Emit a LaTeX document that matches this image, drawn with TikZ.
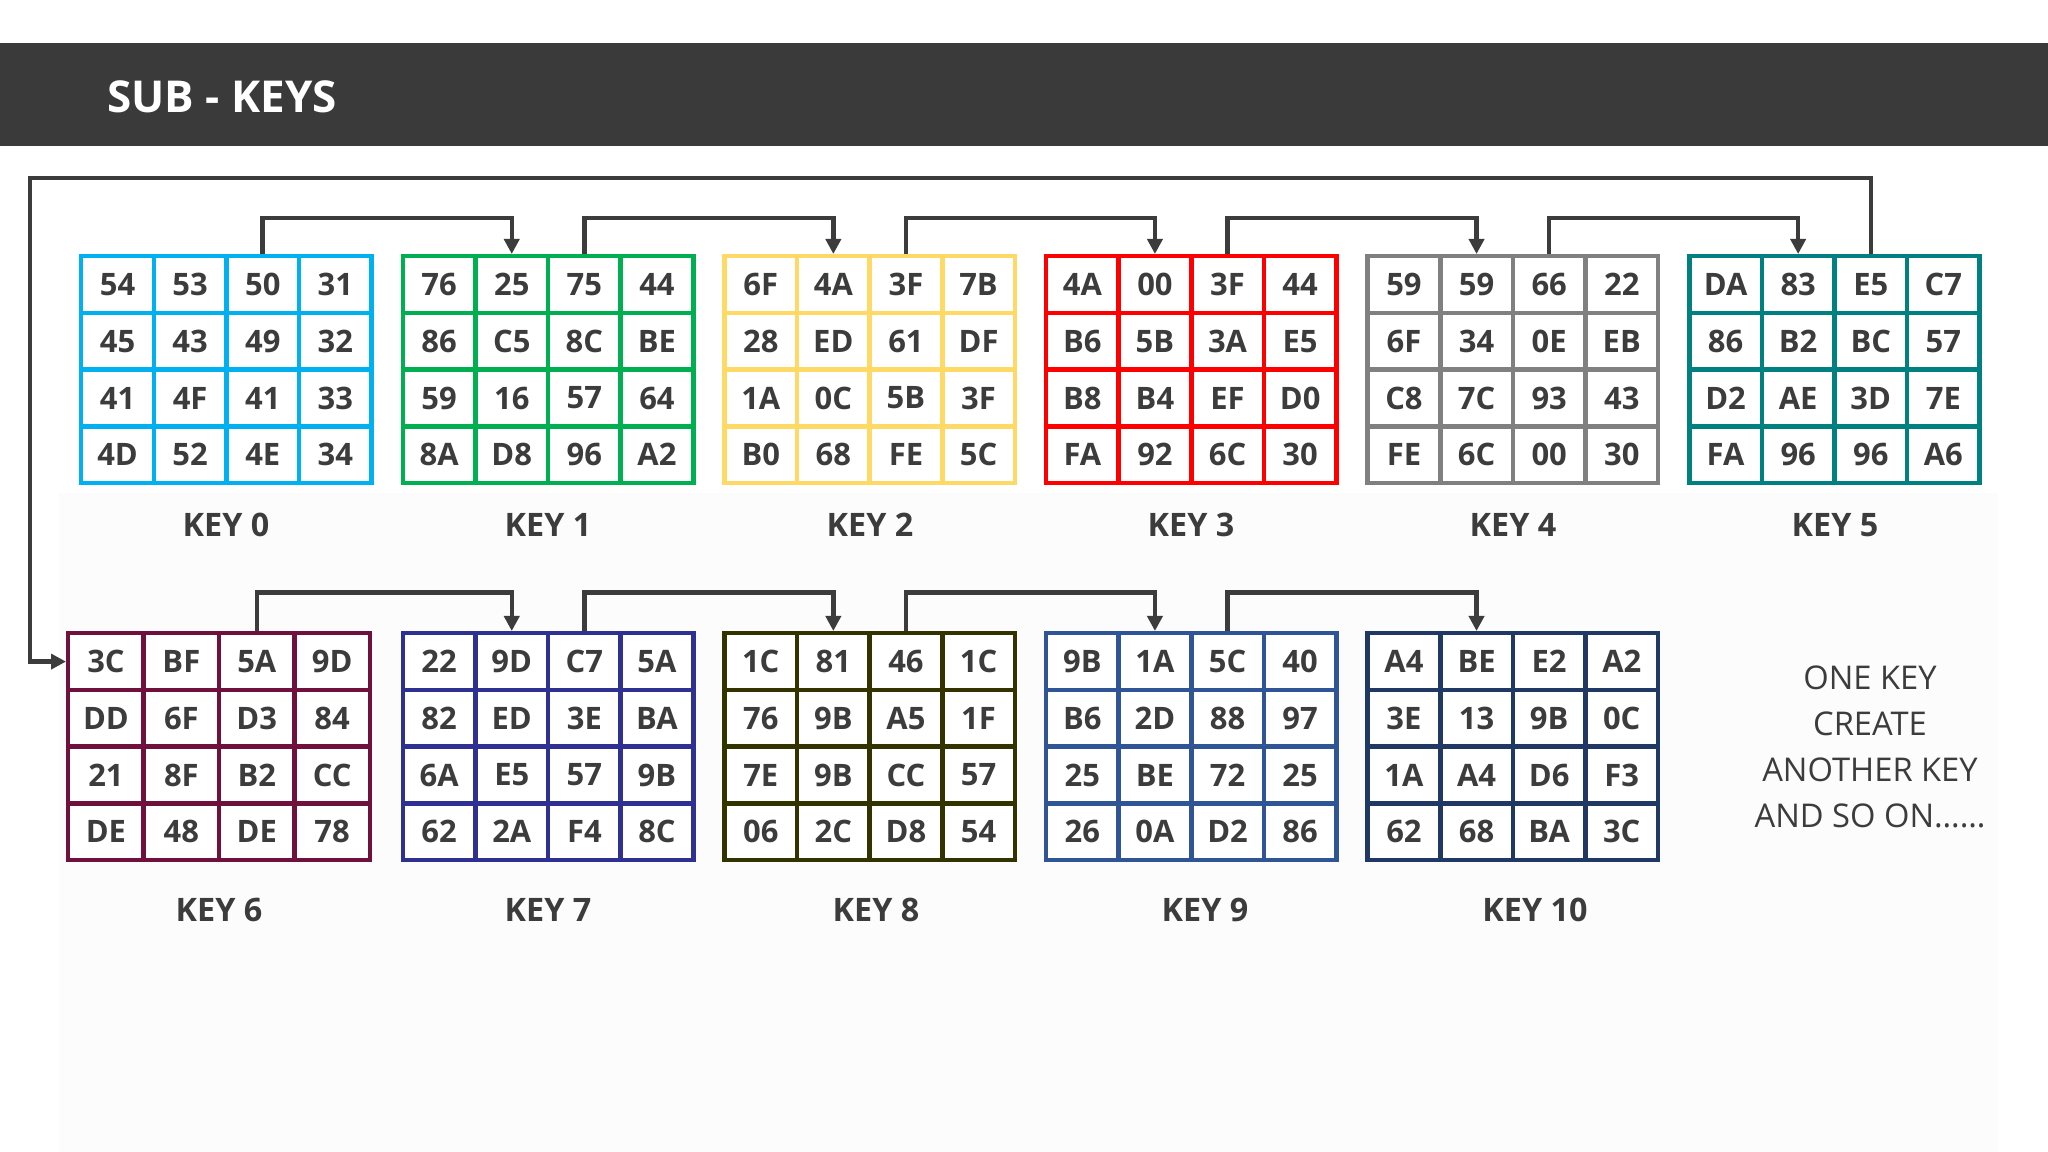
\documentclass[tikz,border=0pt]{standalone}
\usepackage{fontspec}
\setmainfont{Open Sans}
\usetikzlibrary{arrows.meta}
\definecolor{barcolor}{RGB}{58, 58, 58}
\definecolor{inkcolor}{RGB}{60, 60, 60}
\definecolor{panelcolor}{RGB}{252, 252, 253}
\definecolor{keyzero}{RGB}{0, 176, 240}
\definecolor{keyone}{RGB}{0, 176, 80}
\definecolor{keytwo}{RGB}{255, 217, 102}
\definecolor{keythree}{RGB}{255, 0, 0}
\definecolor{keyfour}{RGB}{128, 128, 128}
\definecolor{keyfive}{RGB}{0, 128, 128}
\definecolor{keysix}{RGB}{112, 16, 60}
\definecolor{keyseven}{RGB}{46, 49, 146}
\definecolor{keyeight}{RGB}{51, 51, 0}
\definecolor{keynine}{RGB}{47, 85, 151}
\definecolor{keyten}{RGB}{31, 56, 100}

% 4x4 block of bytes: [cell width]{name}{left}{top}{colour}{values}
\newcommand{\keygrid}[6][0.726]{%
  \foreach \hexval [count=\n from 0] in {#6} {%
    \pgfmathtruncatemacro{\gridrow}{\n/4+1}%
    \pgfmathtruncatemacro{\gridcol}{mod(\n,4)+1}%
    \node[cell, draw=#5, minimum width=#1cm] (#2-\gridrow-\gridcol)
      at ({#3+(\gridcol-0.5)*#1}, {#4-(\gridrow-0.5)*0.567}) {\hexval};
  }%
}

\begin{document}
\begin{tikzpicture}[
    cell/.style={rectangle, fill=white, line width=0.045cm, minimum height=0.567cm, inner sep=0pt, text=inkcolor, font=\fontsize{8.8}{10}\selectfont\bfseries},
    link/.style={-{Triangle[length=0.15cm, width=0.15cm]}, line width=0.045cm, draw=inkcolor},
    keylabel/.style={text=inkcolor, font=\fontsize{9.2}{11}\selectfont\bfseries},
    note/.style={text=inkcolor, align=center, font=\fontsize{9.3}{13.1}\selectfont}
]
\useasboundingbox (0,0) rectangle (20.48,-11.52);
\fill[white] (0,0) rectangle (20.48,-11.52);
\fill[panelcolor] (0.59,-4.93) rectangle (19.98,-11.52);

% Title bar
\fill[barcolor] (0,-0.43) rectangle (20.48,-1.46);
\node[anchor=west, text=white, font=\fontsize{12.5}{14}\selectfont\bfseries] (title) at (0.95,-0.965) {SUB - KEYS};

% Keys 0 - 5
\keygrid{k0}{0.8125}{-2.5625}{keyzero}{54,53,50,31,45,43,49,32,41,4F,41,33,4D,52,4E,34}
\keygrid{k1}{4.0285}{-2.5625}{keyone}{76,25,75,44,86,C5,8C,BE,59,16,57,64,8A,D8,96,A2}
\keygrid{k2}{7.2445}{-2.5625}{keytwo}{6F,4A,3F,7B,28,ED,61,DF,1A,0C,5B,3F,B0,68,FE,5C}
\keygrid{k3}{10.4605}{-2.5625}{keythree}{4A,00,3F,44,B6,5B,3A,E5,B8,B4,EF,D0,FA,92,6C,30}
\keygrid{k4}{13.6765}{-2.5625}{keyfour}{59,59,66,22,6F,34,0E,EB,C8,7C,93,43,FE,6C,00,30}
\keygrid{k5}{16.8925}{-2.5625}{keyfive}{DA,83,E5,C7,86,B2,BC,57,D2,AE,3D,7E,FA,96,96,A6}

\node[keylabel] (l0) at (2.26,-5.25) {KEY 0};
\node[keylabel] (l1) at (5.48,-5.25) {KEY 1};
\node[keylabel] (l2) at (8.70,-5.25) {KEY 2};
\node[keylabel] (l3) at (11.91,-5.25) {KEY 3};
\node[keylabel] (l4) at (15.13,-5.25) {KEY 4};
\node[keylabel] (l5) at (18.35,-5.25) {KEY 5};

% Keys 6 - 10
\keygrid[0.754]{k6}{0.6825}{-6.3325}{keysix}{3C,BF,5A,9D,DD,6F,D3,84,21,8F,B2,CC,DE,48,DE,78}
\keygrid{k7}{4.0285}{-6.3325}{keyseven}{22,9D,C7,5A,82,ED,3E,BA,6A,E5,57,9B,62,2A,F4,8C}
\keygrid{k8}{7.2445}{-6.3325}{keyeight}{1C,81,46,1C,76,9B,A5,1F,7E,9B,CC,57,06,2C,D8,54}
\keygrid{k9}{10.4605}{-6.3325}{keynine}{9B,1A,5C,40,B6,2D,88,97,25,BE,72,25,26,0A,D2,86}
\keygrid{k10}{13.6765}{-6.3325}{keyten}{A4,BE,E2,A2,3E,13,9B,0C,1A,A4,D6,F3,62,68,BA,3C}

\node[keylabel] (l6) at (2.19,-9.10) {KEY 6};
\node[keylabel] (l7) at (5.48,-9.10) {KEY 7};
\node[keylabel] (l8) at (8.76,-9.10) {KEY 8};
\node[keylabel] (l9) at (12.05,-9.10) {KEY 9};
\node[keylabel] (l10) at (15.35,-9.10) {KEY 10};

% One key gives the next
\foreach \a/\b in {k0/k1, k1/k2, k2/k3, k3/k4, k4/k5}
  \draw[link] (\a-1-3.north) -- ++(0,0.36) -| (\b-1-2.north);
\foreach \a/\b in {k6/k7, k7/k8, k8/k9, k9/k10}
  \draw[link] (\a-1-3.north) -- ++(0,0.385) -| (\b-1-2.north);

% Back round to the second row
\coordinate (loopturn) at (0.30,-1.78);
\draw[link] (k5-1-3.north) |- (loopturn) |- (k6-1-1.west);

\node[note] (more) at (18.70,-7.47) {ONE KEY\\CREATE\\ANOTHER KEY\\AND SO ON……};

\end{tikzpicture}
\end{document}
